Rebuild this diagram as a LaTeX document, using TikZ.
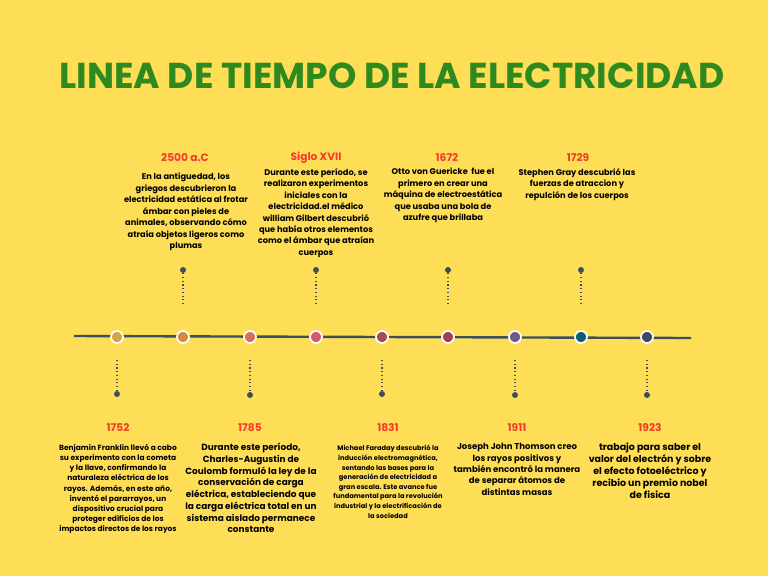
\documentclass[tikz,border=0pt]{standalone}
\usepackage{fontspec}
\setmainfont{Poppins}
\usetikzlibrary{positioning}
\definecolor{bg}{HTML}{FFDE57}
\definecolor{titlegreen}{HTML}{2E8A1E}
\definecolor{yearred}{HTML}{F23B2C}
\definecolor{axis}{HTML}{3D4E5D}
\tikzset{
  year/.style={text=yearred,font=\bfseries\fontsize{8}{9}\selectfont},
  info/.style={align=center,font=\bfseries\fontsize{6.2}{8.6}\selectfont,inner sep=0pt},
  mark dot/.style={shape=circle,draw=white,line width=1.3pt,minimum size=9pt,inner sep=0pt},
  stem/.style={axis,dotted,line width=0.8pt},
  tip/.style={shape=circle,fill=axis,minimum size=4.5pt,inner sep=0pt}
}
\begin{document}
\begin{tikzpicture}[x=0.75pt,y=-0.75pt]
    \fill[bg] (0,0) rectangle (768,576);
    \useasboundingbox (0,0) rectangle (768,576);
    \node[text=titlegreen,font=\bfseries\fontsize{27}{29}\selectfont] (title) at (392,76) {LINEA DE TIEMPO DE LA ELECTRICIDAD};
    % timeline axis
    \coordinate (start) at (74,336);
    \coordinate (end) at (691,338);
    \draw[axis,line width=1.8pt] (start) -- (end);
    \node[mark dot,fill={rgb,255:red,217;green,163;blue,63}] (m1) at (117,337) {};
    \node[mark dot,fill={rgb,255:red,212;green,138;blue,59}] (m2) at (183,337) {};
    \node[mark dot,fill={rgb,255:red,219;green,110;blue,90}] (m3) at (250,337) {};
    \node[mark dot,fill={rgb,255:red,207;green,92;blue,110}] (m4) at (316,337) {};
    \node[mark dot,fill={rgb,255:red,168;green,74;blue,85}] (m5) at (382,337) {};
    \node[mark dot,fill={rgb,255:red,163;green,62;blue,78}] (m6) at (448,337) {};
    \node[mark dot,fill={rgb,255:red,110;green,90;blue,138}] (m7) at (515,337) {};
    \node[mark dot,fill={rgb,255:red,11;green,94;blue,110}] (m8) at (581,337) {};
    \node[mark dot,fill={rgb,255:red,57;green,74;blue,94}] (m9) at (647,337) {};
    % stems
    \node[tip] (t2) at (183,270) {};
    \node[tip] (t4) at (316,270) {};
    \node[tip] (t6) at (448,270) {};
    \node[tip] (t8) at (581,270) {};
    \node[tip] (t1) at (117,394) {};
    \node[tip] (t3) at (250,395) {};
    \node[tip] (t5) at (382,394) {};
    \node[tip] (t7) at (515,395) {};
    \node[tip] (t9) at (647,395) {};
    \draw[stem] (t2) -- (183,305);
    \draw[stem] (t4) -- (316,305);
    \draw[stem] (t6) -- (448,305);
    \draw[stem] (t8) -- (581,305);
    \draw[stem] (117,360) -- (t1);
    \draw[stem] (250,360) -- (t3);
    \draw[stem] (382,360) -- (t5);
    \draw[stem] (515,360) -- (t7);
    \draw[stem] (647,360) -- (t9);
    % upper events
    \node[year] (y2) at (185,158) {2500 a.C};
    \node[info,anchor=north] (e2) at (186,173) {En la antiguedad, los\\griegos descubrieron la\\electricidad estática al frotar\\ámbar con pieles de\\animales, observando cómo\\atraía objetos ligeros como\\plumas};
    \node[year] (y4) at (316,158) {Siglo XVII};
    \node[info,anchor=north] (e4) at (316,168) {Durante este período, se\\realizaron experimentos\\iniciales con la\\electricidad.el médico\\william Gilbert descubrió\\que había otros elementos\\como el ámbar que atraían\\cuerpos};
    \node[year] (y6) at (447,158) {1672};
    \node[info,anchor=north] (e6) at (443,168) {Otto von Guericke\ \ fue el\\primero en crear una\\máquina de electroestática\\que usaba una bola de\\azufre que brillaba};
    \node[year] (y8) at (578,158) {1729};
    \node[info,anchor=north] (e8) at (577,168) {Stephen Gray descubrió las\\fuerzas de atraccion y\\repulción de los cuerpos};
    % lower events
    \node[year] (y1) at (118,428) {1752};
    \node[info,anchor=north,font=\bfseries\fontsize{5.6}{7.6}\selectfont] (e1) at (118,444) {Benjamin Franklin llevó a cabo\\su experimento con la cometa\\y la llave, confirmando la\\naturaleza eléctrica de los\\rayos. Además, en este año,\\inventó el pararrayos, un\\dispositivo crucial para\\proteger edificios de los\\impactos directos de los rayos};
    \node[year] (y3) at (250,428) {1785};
    \node[info,anchor=north,font=\bfseries\fontsize{6.7}{8.8}\selectfont] (e3) at (251,443) {Durante este período,\\Charles-Augustin de\\Coulomb formuló la ley de la\\conservación de carga\\eléctrica, estableciendo que\\la carga eléctrica total en un\\sistema aislado permanece\\constante};
    \node[year] (y5) at (388,428) {1831};
    \node[info,anchor=north,font=\bfseries\fontsize{5}{7.2}\selectfont] (e5) at (388,445) {Michael Faraday descubrió la\\inducción electromagnética,\\sentando las bases para la\\generación de electricidad a\\gran escala. Este avance fue\\fundamental para la revolución\\industrial y la electrificación de\\la sociedad};
    \node[year] (y7) at (517,428) {1911};
    \node[info,anchor=north,font=\bfseries\fontsize{6.4}{8.6}\selectfont] (e7) at (517,443) {Joseph John Thomson creo\\los rayos positivos y\\también encontró la manera\\de separar átomos de\\distintas masas};
    \node[year] (y9) at (650,428) {1923};
    \node[info,anchor=north,font=\bfseries\fontsize{7.1}{9}\selectfont] (e9) at (650,443) {trabajo para saber el\\valor del electrón y sobre\\el efecto fotoeléctrico y\\recibio un premio nobel\\de fisica};
\end{tikzpicture}
\end{document}
